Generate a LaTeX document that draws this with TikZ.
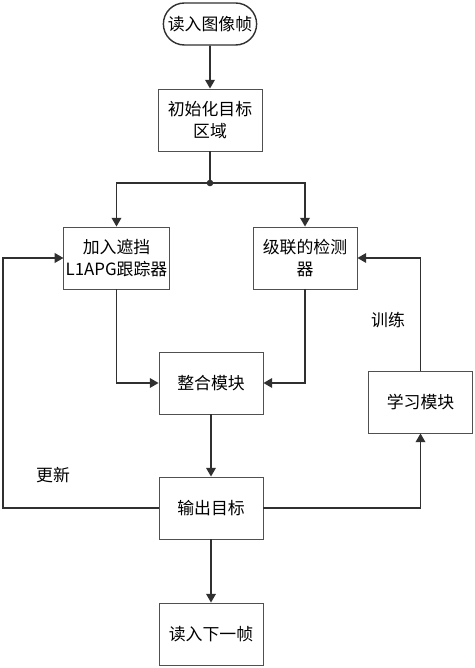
\documentclass[tikz,border=0pt]{standalone}
\usepackage{fontspec}
\setmainfont{Noto Sans CJK SC}
\usepackage{tikz}
\usetikzlibrary{arrows.meta,positioning,shapes.misc}
\definecolor{lineGray}{HTML}{303030}
\definecolor{boxGray}{HTML}{505050}

\begin{document}
\begin{tikzpicture}[x=0.02cm, y=-0.02cm, font=\fontsize{9.6}{13}\selectfont,
  box/.style={draw=boxGray, line width=0.5pt, minimum width=2.08cm, minimum height=1.24cm, align=center, inner sep=1pt},
  term/.style={draw=lineGray, line width=0.8pt, rounded rectangle, minimum width=2.1cm, minimum height=0.84cm},
  flow/.style={draw=lineGray, line width=0.9pt, -{Triangle[length=5pt,width=5.5pt]}},
  wire/.style={draw=lineGray, line width=0.9pt}]
\useasboundingbox (0,0) rectangle (474,668);
% --- top: read frame and init ---
\node[term] (read) at (210,24) {读入图像帧};
\node[box] (init) at (210,120) {初始化目标\\区域};
\coordinate (split) at (210,183);
\fill[lineGray] (split) circle (3.3);
% --- tracker and detector ---
\node[box] (track) at (116.5,258) {加入遮挡\\L1APG跟踪器};
\node[box] (detect) at (305,258) {级联的检测\\器};
\node[box] (merge) at (211,383) {整合模块};
\node[box] (learn) at (420.5,402) {学习模块};
\node[box] (output) at (211,508) {输出目标};
\node[box] (next) at (211,634) {读入下一帧};
% --- labels ---
\node (train) at (388,320) {训练};
\node (update) at (53,475) {更新};
% --- connectors ---
\draw[flow] (read) -- (init);
\draw[wire] (init) -- (split);
\draw[flow] (split) -| (track);
\draw[flow] (split) -| (detect);
\draw[flow] (track) |- (merge);
\draw[flow] (detect) |- (merge);
\draw[flow] (merge) -- (output);
\draw[flow] (output) -- (next);
\coordinate (backL) at (3,508);
\draw[flow] (output.west) -- (backL) |- (track.west);
\draw[flow] (output.east) -| (learn.south);
\draw[flow] (learn.north) |- (detect.east);
\end{tikzpicture}
\end{document}
